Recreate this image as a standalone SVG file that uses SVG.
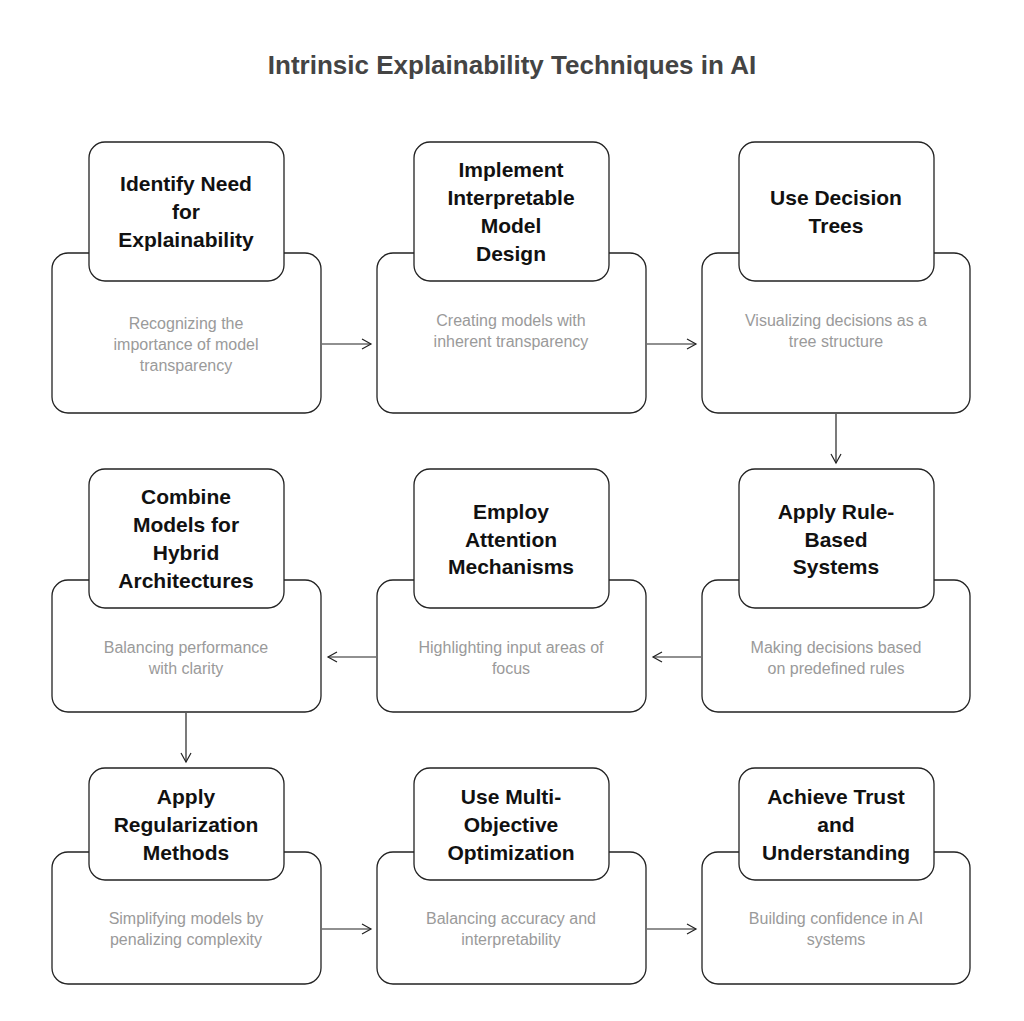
<svg xmlns="http://www.w3.org/2000/svg" width="1024" height="1021" viewBox="0 0 1024 1021">
<defs>
<style>
.ob{fill:#fff;stroke:#222;stroke-width:1.3}
.tb{fill:#fff;stroke:#222;stroke-width:1.3}
.t{font-family:"Liberation Sans",Arial,sans-serif;font-weight:bold;font-size:21px;fill:#111;text-anchor:middle}
.d{font-family:"Liberation Sans",Arial,sans-serif;font-size:16px;fill:#9a9a9a;text-anchor:middle}
.c{stroke:#222;stroke-width:1.2;fill:none;marker-end:url(#a)}
</style>
<marker id="a" markerWidth="12" markerHeight="12" refX="10" refY="6" orient="auto" markerUnits="userSpaceOnUse"><path d="M1,1 L10,6 L1,11" fill="none" stroke="#222" stroke-width="1.2"/></marker>
</defs>
<rect width="1024" height="1021" fill="#fff"/>
<text x="512" y="74" font-family="Liberation Sans,Arial,sans-serif" font-weight="bold" font-size="26" fill="#444" text-anchor="middle">Intrinsic Explainability Techniques in AI</text>
<g id="connectors">
<line class="c" x1="322" y1="344" x2="371" y2="344"/>
<line class="c" x1="647" y1="344" x2="696" y2="344"/>
<line class="c" x1="836" y1="414" x2="836" y2="463"/>
<line class="c" x1="701" y1="657" x2="653" y2="657"/>
<line class="c" x1="376" y1="657" x2="328" y2="657"/>
<line class="c" x1="186" y1="713" x2="186" y2="762"/>
<line class="c" x1="322" y1="929" x2="371" y2="929"/>
<line class="c" x1="647" y1="929" x2="696" y2="929"/>
</g>
<g id="n1"><rect class="ob" x="52" y="253" width="269" height="160" rx="16"/><rect class="tb" x="89" y="142" width="195" height="139" rx="16"/>
<text class="t" x="186" y="191">Identify Need</text><text class="t" x="186" y="219">for</text><text class="t" x="186" y="247">Explainability</text>
<text class="d" x="186" y="329">Recognizing the</text><text class="d" x="186" y="350">importance of model</text><text class="d" x="186" y="371">transparency</text></g>
<g id="n2"><rect class="ob" x="377" y="253" width="269" height="160" rx="16"/><rect class="tb" x="414" y="142" width="195" height="139" rx="16"/>
<text class="t" x="511" y="177">Implement</text><text class="t" x="511" y="205">Interpretable</text><text class="t" x="511" y="233">Model</text><text class="t" x="511" y="261">Design</text>
<text class="d" x="511" y="326">Creating models with</text><text class="d" x="511" y="347">inherent transparency</text></g>
<g id="n3"><rect class="ob" x="702" y="253" width="268" height="160" rx="16"/><rect class="tb" x="739" y="142" width="195" height="139" rx="16"/>
<text class="t" x="836" y="205">Use Decision</text><text class="t" x="836" y="233">Trees</text>
<text class="d" x="836" y="326">Visualizing decisions as a</text><text class="d" x="836" y="347">tree structure</text></g>
<g id="n4"><rect class="ob" x="702" y="580" width="268" height="132" rx="16"/><rect class="tb" x="739" y="469" width="195" height="139" rx="16"/>
<text class="t" x="836" y="519">Apply Rule-</text><text class="t" x="836" y="547">Based</text><text class="t" x="836" y="574">Systems</text>
<text class="d" x="836" y="653">Making decisions based</text><text class="d" x="836" y="674">on predefined rules</text></g>
<g id="n5"><rect class="ob" x="377" y="580" width="269" height="132" rx="16"/><rect class="tb" x="414" y="469" width="195" height="139" rx="16"/>
<text class="t" x="511" y="519">Employ</text><text class="t" x="511" y="547">Attention</text><text class="t" x="511" y="574">Mechanisms</text>
<text class="d" x="511" y="653">Highlighting input areas of</text><text class="d" x="511" y="674">focus</text></g>
<g id="n6"><rect class="ob" x="52" y="580" width="269" height="132" rx="16"/><rect class="tb" x="89" y="469" width="195" height="139" rx="16"/>
<text class="t" x="186" y="504">Combine</text><text class="t" x="186" y="532">Models for</text><text class="t" x="186" y="560">Hybrid</text><text class="t" x="186" y="588">Architectures</text>
<text class="d" x="186" y="653">Balancing performance</text><text class="d" x="186" y="674">with clarity</text></g>
<g id="n7"><rect class="ob" x="52" y="852" width="269" height="132" rx="16"/><rect class="tb" x="89" y="768" width="195" height="112" rx="16"/>
<text class="t" x="186" y="804">Apply</text><text class="t" x="186" y="832">Regularization</text><text class="t" x="186" y="860">Methods</text>
<text class="d" x="186" y="924">Simplifying models by</text><text class="d" x="186" y="945">penalizing complexity</text></g>
<g id="n8"><rect class="ob" x="377" y="852" width="269" height="132" rx="16"/><rect class="tb" x="414" y="768" width="195" height="112" rx="16"/>
<text class="t" x="511" y="804">Use Multi-</text><text class="t" x="511" y="832">Objective</text><text class="t" x="511" y="860">Optimization</text>
<text class="d" x="511" y="924">Balancing accuracy and</text><text class="d" x="511" y="945">interpretability</text></g>
<g id="n9"><rect class="ob" x="702" y="852" width="268" height="132" rx="16"/><rect class="tb" x="739" y="768" width="195" height="112" rx="16"/>
<text class="t" x="836" y="804">Achieve Trust</text><text class="t" x="836" y="832">and</text><text class="t" x="836" y="860">Understanding</text>
<text class="d" x="836" y="924">Building confidence in AI</text><text class="d" x="836" y="945">systems</text></g>
</svg>
